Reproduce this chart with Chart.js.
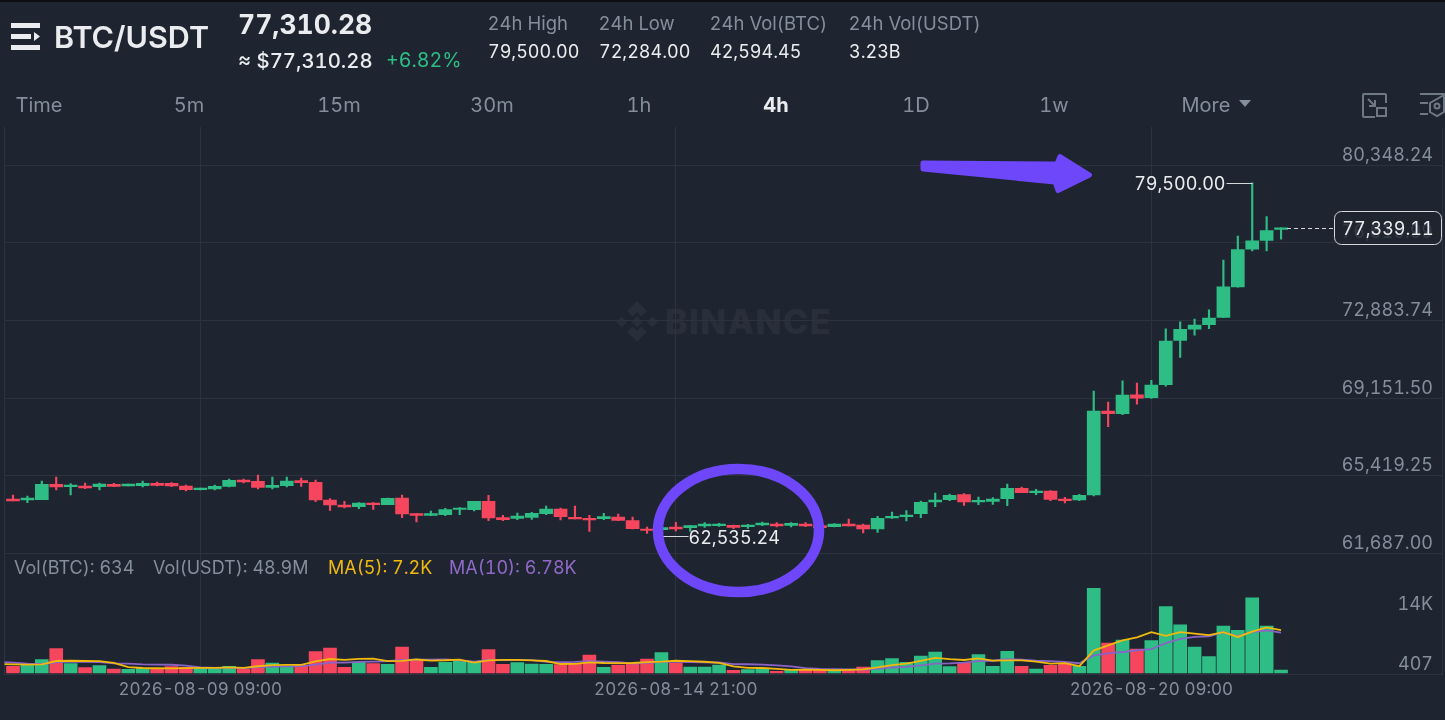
<!DOCTYPE html>
<html>
<head>
<meta charset="utf-8">
<title>BTC/USDT</title>
<script src="https://cdn.jsdelivr.net/npm/chart.js@4"></script>
<style>
    @font-face { font-family: InterNum; src: local("Inter"); font-feature-settings: "tnum"; }
    html, body { margin: 0; padding: 0; background: #1f2530; overflow: hidden; }
    body { width: 1445px; height: 720px; position: relative; font-family: Inter, sans-serif; color: #eaecef; font-variant-numeric: tabular-nums; }
    .t { position: absolute; white-space: nowrap; line-height: 1; }
    .gray { color: #848e9c; }
    .tab { font-size: 20px; top: 95px; color: #848e9c; transform: translateX(-50%); }
    canvas, svg { position: absolute; left: 0; top: 0; }
</style>
</head>
<body>
<div style="position:absolute;left:0;top:0;width:1445px;height:2px;background:#0c0e12"></div>

<!-- watermark sits under the chart -->
<svg width="1445" height="720">
    <g fill="#292f3a" transform="translate(637 322) scale(1.100) translate(-637 -322)">
        <path d="M637 303l9 9-5 5-4-4-4 4-5-5zM618 322l5-5 5 5-5 5zM646 322l5-5 5 5-5 5zM637 317l5 5-5 5-5-5zM628 331l5-5 4 4 4-4 5 5-9 9z"/>
    </g>
</svg>
<div class="t" style="left:665px;top:305px;font-size:34px;font-weight:800;color:#292f3a;letter-spacing:1.5px">BINANCE</div>

<canvas id="kline" width="1445" height="720"></canvas>

<svg width="1445" height="720" style="pointer-events:none">
    <g fill="#eaecef">
        <rect x="11" y="23" width="29" height="5"/>
        <rect x="11" y="34" width="20" height="5"/>
        <rect x="11" y="45" width="29" height="5"/>
        <path d="M34 32l6 4.500-6 4.500z"/>
    </g>
    <g fill="none" stroke="#6f7885" stroke-width="2">
        <path d="M1375 117h-11a1 1 0 0 1-1-1v-21a1 1 0 0 1 1-1h21a1 1 0 0 1 1 1v8"/>
        <rect x="1377" y="108" width="9" height="8"/>
        <path d="M1368 99l7 7M1375 100v6h-6"/>
        <path d="M1420 94h25M1420 103h8M1420 114h8"/>
        <path d="M1437 99l7-4v17l-7 4-7-4v-9z"/>
        <circle cx="1437" cy="106" r="2.500"/>
    </g>
    <path d="M1239 100h12l-6 7z" fill="#848e9c"/>
    <!-- hand drawn marks on top of the screenshot -->
    <ellipse cx="738.500" cy="530.500" rx="80.500" ry="61.500" fill="none" stroke="#6e47fb" stroke-width="10.500"/>
    <path d="M923 163L1057 164L1060 156.500L1089.500 175L1058 190.500L1055 182L923 169z" fill="#6e47fb" stroke="#6e47fb" stroke-width="5" stroke-linejoin="round"/>
</svg>

<div class="t" style="left:54px;top:22px;font-size:30.500px;font-weight:600">BTC/USDT</div>
<div class="t" style="left:238px;top:11px;font-size:26.500px;font-weight:700">77,310.28</div>
<div class="t" style="left:238px;top:51px;font-size:20.300px;font-weight:500">&#8776; $77,310.28</div>
<div class="t" style="left:386px;top:51px;font-size:19.700px;color:#2ebd85">+6.82%</div>

<div class="t gray" style="left:487.500px;top:14px;font-size:18.500px">24h High</div>
<div class="t gray" style="left:598.500px;top:14px;font-size:18.500px">24h Low</div>
<div class="t gray" style="left:709.500px;top:14px;font-size:18.500px">24h Vol(BTC)</div>
<div class="t gray" style="left:848.500px;top:14px;font-size:18.500px">24h Vol(USDT)</div>
<div class="t" style="left:488px;top:43px;font-size:18px">79,500.00</div>
<div class="t" style="left:599px;top:43px;font-size:18px">72,284.00</div>
<div class="t" style="left:710px;top:43px;font-size:18px">42,594.45</div>
<div class="t" style="left:849px;top:43px;font-size:18px">3.23B</div>

<div class="t tab" style="left:39px">Time</div>
<div class="t tab" style="left:189px">5m</div>
<div class="t tab" style="left:339px">15m</div>
<div class="t tab" style="left:492px">30m</div>
<div class="t tab" style="left:639px">1h</div>
<div class="t tab" style="left:776px;color:#eaecef;font-weight:700">4h</div>
<div class="t tab" style="left:916px">1D</div>
<div class="t tab" style="left:1054px">1w</div>
<div class="t tab" style="left:1206px">More</div>

<div class="t gray" style="left:14px;top:559px;font-size:18px">Vol(BTC): 634</div>
<div class="t gray" style="left:153px;top:559px;font-size:18px">Vol(USDT): 48.9M</div>
<div class="t" style="left:328px;top:559px;font-size:18px;color:#f0b90b">MA(5): 7.2K</div>
<div class="t" style="left:449px;top:559px;font-size:18px;color:#9169c9">MA(10): 6.78K</div>

<script>
const opens = [64314,64266,64282,65018,64906,64938,64906,65018,64938,64954,65066,65066,64938,64762,64794,64922,65226,65162,64874,64954,65194,65114,64266,64026,
    63946,64122,64042,64362,63610,63530,63562,63818,63802,64202,63418,63386,63434,63610,63834,63434,63386,63370,63450,63274,62874,62842,62970,
    62938,63018,63034,63050,62986,63066,63114,63050,63114,63034,62986,63114,63066,62874,63402,63466,63610,64170,64282,64522,64170,64202,64330,64826,64618,64698,64314,64266,
    64506,68538,68410,69322,69178,69802,71930,72474,72682,73034,74506,76314,76730,77258];
const closes = [64218,64362,65018,64890,64986,64842,65034,64922,65034,65066,64970,64938,64762,64842,64922,65210,65130,64874,64970,65178,65098,64266,64026,63930,
    64122,64042,64346,63594,63530,63610,63802,63882,64202,63402,63322,63498,63626,63834,63466,63354,63306,63466,63290,62890,62810,62938,62874,
    63034,63114,63114,62954,63066,63162,63018,63146,63018,62938,63114,63018,62874,63386,63482,63546,64154,64266,64490,64170,64250,64314,64826,64618,64698,64298,64234,64490,
    68538,68410,69306,69162,69786,71898,72458,72666,73002,74506,76298,76714,77210,77339.11];
const highs = [64506,64458,65178,65370,65050,65082,65082,65066,65034,65178,65130,65098,64986,64842,64986,65274,65274,65466,65370,65370,65322,65226,64330,64202,
    64138,64138,64362,64506,63626,63738,63866,63898,64202,64490,63530,63642,63674,63978,63882,63978,63530,63626,63594,63450,62970,62938,63194,
    63050,63178,63146,63066,63098,63210,63178,63178,63178,63082,63130,63354,63114,63482,63690,63754,64218,64602,64554,64570,64410,64378,65034,64890,64778,64714,64394,64538,
    69498,68970,69994,69882,70010,72490,72826,72954,73402,75786,76938,79500,77882,77339.11];
const lows = [64218,64138,64282,64746,64506,64810,64746,64906,64938,64890,64938,64906,64698,64746,64746,64890,65082,64794,64794,64890,64922,64186,63770,63882,
    63850,63818,64042,63418,63210,63514,63514,63562,63738,63274,63274,63322,63338,63562,63306,63354,62762,63322,63274,62874,62666,62535.24,62778,
    62762,62954,63002,62890,62906,63034,62970,62970,62986,62922,62970,63018,62682,62714,63386,63258,63418,63946,64234,64010,64042,64058,63994,64618,64522,64234,64122,64234,
    64458,67786,68362,68874,69146,69738,71114,72186,72490,73018,74490,76234,76234,76794];
const volumes = [1460,1690,2970,5450,2060,1160,1610,860,780,1010,860,1390,1240,1010,1090,1460,860,2970,2220,1390,1610,4780,5600,1240,
    2440,2060,1910,5830,2820,1240,2370,2590,2520,5230,1910,2290,1990,1910,1840,2060,4020,1240,1760,1990,3120,4550,2220,
    1310,1310,1760,560,710,1090,330,630,710,630,560,780,1310,2740,3190,2370,3800,4700,1390,2220,4100,1460,4850,1460,860,1690,2060,1460,
    19080,6730,7410,5380,7260,14940,10870,5830,3650,10570,9590,16970,10570,634];
// both lines start one bar before the first candle
const ma5 = [1990,1914,1838,1914,2667,2726,2666,2650,2228,1294,1084,1024,980,1056,1102,1118,1238,1132,1478,1720,1780,1810,2594,3120,2924,3134,3224,2650,2696,3012,2772,2834,2970,2308,2790,2924,2908,2788,2666,1988,2018,2364,2214,2184,2214,2426,2532,2728,2638,2502,2230,1432,1130,1086,890,664,694,678,572,662,798,1204,1716,2078,2682,3360,3090,2896,3242,2774,2804,2818,2546,2064,2184,1506,5030,6204,7348,8012,9174,8346,9174,8858,8512,9174,8104,9324,10272,9671];
const ma10 = [2441,2290,2064,1989,2366,2516,2490,2420,2140,2064,1905,1845,1815,1642,1198,1101,1131,1056,1267,1411,1449,1524,1863,2299,2322,2457,2517,2622,2908,2968,2953,3029,2810,2502,2901,2848,2871,2879,2487,2389,2471,2636,2501,2425,2101,2222,2448,2471,2411,2358,2328,1982,1929,1862,1696,1447,1063,904,829,776,731,949,1197,1325,1672,2079,2147,2306,2660,2728,3082,2954,2721,2653,2479,2155,3924,4375,4706,5098,5340,6688,7689,8103,8262,9174,8225,9249,9565,9092];

const priceTicks = [61687, 65419.25, 69151.50, 72883.74, 76615.99, 80348.24];
const priceTickLabels = ['61,687.00', '65,419.25', '69,151.50', '72,883.74', '76,615.99', '80,348.24'];
const volTicks = [407, 14000];
const volTickLabels = ['407', '14K'];
const timeTicks = [13, 46, 79];
const timeLabels = ['2026-08-09 09:00', '2026-08-14 21:00', '2026-08-20 09:00'];

const GREEN = '#2ebd85', RED = '#f6465d', GRID = '#2d333e';
const TICK_COLOR = '#848e9c';
const FAMILY = 'InterNum, Inter';
const FONT = { family: FAMILY, size: 18 };
const XMIN = -0.59, XMAX = 99.17;

const isUp = i => closes[i] >= opens[i];
const barColor = ctx => isUp(ctx.dataIndex) ? GREEN : RED;

// high / low callouts and the last price box
const callouts = {
    id: 'callouts',
    afterDatasetsDraw(chart) {
        const { ctx, scales } = chart;
        const x = scales.x, y = scales.y;
        ctx.save();
        ctx.font = '18px ' + FAMILY;
        ctx.fillStyle = '#eaecef';
        ctx.strokeStyle = '#d5d8dc';
        ctx.lineWidth = 1;
        ctx.textBaseline = 'middle';

        const hi = highs.indexOf(Math.max(...highs));
        const hx = Math.round(x.getPixelForValue(hi)) + 0.5;
        const hy = Math.round(y.getPixelForValue(highs[hi])) + 0.5;
        ctx.beginPath(); ctx.moveTo(hx, hy); ctx.lineTo(hx - 26, hy); ctx.stroke();
        ctx.textAlign = 'right';
        ctx.fillText('79,500.00', hx - 27, hy + 1);

        const lo = lows.indexOf(Math.min(...lows));
        const lx = Math.round(x.getPixelForValue(lo)) + 0.5;
        const ly = Math.round(y.getPixelForValue(lows[lo])) + 0.5;
        ctx.beginPath(); ctx.moveTo(lx, ly); ctx.lineTo(lx + 27, ly); ctx.stroke();
        ctx.textAlign = 'left';
        ctx.fillText('62,535.24', lx + 27, ly + 2);

        const last = closes[closes.length - 1];
        const cy = Math.round(y.getPixelForValue(last)) + 0.5;
        const cx = x.getPixelForValue(closes.length - 1);
        ctx.setLineDash([4, 3]);
        ctx.beginPath(); ctx.moveTo(cx + 6, cy); ctx.lineTo(1334, cy); ctx.stroke();
        ctx.setLineDash([]);
        ctx.beginPath();
        ctx.roundRect(1334.5, 211.5, 107, 33, 7);
        ctx.fillStyle = 'rgba(31,37,48,0.8)';
        ctx.fill();
        ctx.stroke();
        ctx.fillStyle = '#eaecef';
        ctx.textAlign = 'center';
        ctx.fillText('77,339.11', 1388, cy + 1);
        ctx.restore();
    }
};

function draw() {
    const ctx = document.getElementById('kline').getContext('2d');
    new Chart(ctx, {
        data: {
            datasets: [
                {
                    type: 'line', yAxisID: 'yVol', order: 0,
                    data: ma5.map((v, i) => ({ x: i - 1, y: v })),
                    borderColor: '#f0b90b', borderWidth: 1.8, pointRadius: 0, tension: 0
                },
                {
                    type: 'line', yAxisID: 'yVol', order: 0,
                    data: ma10.map((v, i) => ({ x: i - 1, y: v })),
                    borderColor: '#8a63c7', borderWidth: 1.8, pointRadius: 0, tension: 0
                },
                {
                    type: 'bar', yAxisID: 'yVol', order: 1, grouped: false,
                    data: volumes.map((v, i) => ({ x: i, y: v })),
                    backgroundColor: barColor, barThickness: 13
                },
                {
                    type: 'bar', yAxisID: 'y', order: 1, grouped: false,
                    data: opens.map((v, i) => ({ x: i, y: [v, closes[i]] })),
                    backgroundColor: barColor, barThickness: 13, borderSkipped: false
                },
                {
                    type: 'bar', yAxisID: 'y', order: 2, grouped: false,
                    data: lows.map((v, i) => ({ x: i, y: [v, highs[i]] })),
                    backgroundColor: barColor, barThickness: 1.5, borderSkipped: false
                }
            ]
        },
        options: {
            responsive: false,
            animation: false,
            devicePixelRatio: 1,
            layout: { padding: { left: 4.5, right: 3, top: 127, bottom: 0 } },
            plugins: { legend: { display: false }, tooltip: { enabled: false } },
            scales: {
                x: {
                    type: 'linear', min: XMIN, max: XMAX,
                    offset: false,
                    afterBuildTicks: s => { s.ticks = [{ value: XMIN }, ...timeTicks.map(v => ({ value: v }))]; },
                    // the scale asks for label room on the left, which would move the plot
                    afterFit: s => { s.height = 46; s.paddingLeft = 0; s.paddingRight = 0; },
                    grid: { color: GRID, drawTicks: false, offset: false },
                    border: { color: GRID },
                    ticks: {
                        color: TICK_COLOR, font: { family: FAMILY, size: 17 }, padding: 6, maxRotation: 0, autoSkip: false,
                        callback: v => timeLabels[timeTicks.indexOf(v)] || ''
                    }
                },
                y: {
                    position: 'right', stack: 'panes', stackWeight: 427, offset: false,
                    min: 61672.6, max: 82181,
                    afterBuildTicks: s => { s.ticks = priceTicks.map(v => ({ value: v })); },
                    afterFit: s => { s.width = 0; },
                    grid: { color: GRID, drawTicks: false },
                    border: { color: GRID },
                    ticks: {
                        mirror: true, padding: -9, labelOffset: -10,
                        color: TICK_COLOR, font: FONT,
                        callback: v => priceTickLabels[priceTicks.indexOf(v)]
                    }
                },
                yVol: {
                    position: 'right', stack: 'panes', stackWeight: 120, offset: false,
                    min: -270, max: 26850,
                    afterBuildTicks: s => { s.ticks = volTicks.map(v => ({ value: v })); },
                    afterFit: s => { s.width = 0; },
                    grid: { display: false },
                    border: { color: GRID },
                    ticks: {
                        mirror: true, padding: -9, labelOffset: -6,
                        color: TICK_COLOR, font: FONT,
                        callback: v => volTickLabels[volTicks.indexOf(v)]
                    }
                }
            }
        },
        plugins: [callouts]
    });
}

document.fonts.load('18px InterNum').then(draw, draw);
</script>
</body>
</html>
